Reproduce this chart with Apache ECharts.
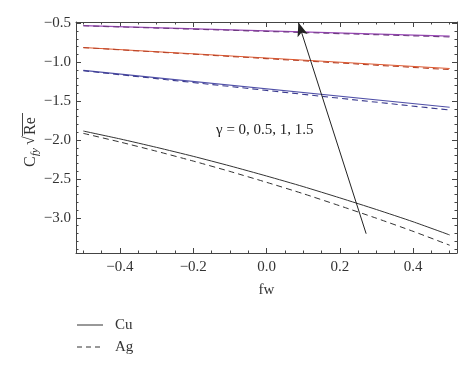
<!DOCTYPE html>
<html><head><meta charset="utf-8">
<script src="https://cdn.jsdelivr.net/npm/echarts@6/dist/echarts.min.js"></script>
<style>html,body{margin:0;padding:0;background:#fff}#c{width:474px;height:372px}</style>
</head><body><div id="c"></div>
<script>
// ---- data ----
const fwValues = [-0.5, -0.4, -0.3, -0.2, -0.1, 0, 0.1, 0.2, 0.3, 0.4, 0.5];
const cuGamma0 = [-1.885, -1.986, -2.095, -2.210, -2.333, -2.463, -2.599, -2.744, -2.894, -3.051, -3.221];
const agGamma0 = [-1.915, -2.026, -2.145, -2.271, -2.404, -2.544, -2.690, -2.846, -3.006, -3.174, -3.353];
const fwEnds = [-0.5, 0.5];
const cuGamma05 = [-1.105, -1.58];
const agGamma05 = [-1.11, -1.615];
const cuGamma1 = [-0.81, -1.08];
const agGamma1 = [-0.812, -1.095];
const cuGamma15 = [-0.53, -0.665];
const agGamma15 = [-0.532, -0.675];
const arrowStart = [0.272, -3.205];
const arrowEnd = [0.087, -0.488];
const xTicks = [-0.4, -0.2, 0, 0.2, 0.4];
const xMinorTicks = [-0.5, -0.45, -0.4, -0.35, -0.3, -0.25, -0.2, -0.15, -0.1, -0.05, 0, 0.05, 0.1, 0.15, 0.2, 0.25, 0.3, 0.35, 0.4, 0.45, 0.5];
const yTicks = [-3.0, -2.5, -2.0, -1.5, -1.0, -0.5];
const yMinorTicks = [-3.4, -3.3, -3.2, -3.1, -3.0, -2.9, -2.8, -2.7, -2.6, -2.5, -2.4, -2.3, -2.2, -2.1, -2.0, -1.9, -1.8, -1.7, -1.6, -1.5, -1.4, -1.3, -1.2, -1.1, -1.0, -0.9, -0.8, -0.7, -0.6, -0.5];
const legendNames = ['Cu', 'Ag'];
const gammaText = 'γ = 0, 0.5, 1, 1.5';

const SERIF = '"Liberation Serif", "DejaVu Serif", serif';
const AX = '#444';
const fmt = v => (v < 0 ? '\u2212' : '') + Math.abs(v).toFixed(1);
const pairs = (xs, ys) => xs.map((x, i) => [x, ys[i]]);

function xAx(pos, major, withLabel) {
  return {
    type: 'value', position: pos, min: -0.52, max: 0.52,
    axisLine: { show: major, onZero: false, lineStyle: { color: AX, width: 1 } },
    axisTick: { show: true, inside: true, length: major ? 5 : 2.5, customValues: major ? xTicks : xMinorTicks, lineStyle: { color: AX } },
    axisLabel: { show: withLabel, customValues: xTicks, formatter: fmt, color: '#333', fontFamily: SERIF, fontSize: 15, margin: 7 },
    splitLine: { show: false },
    name: withLabel ? 'fw' : '', nameLocation: 'middle', nameGap: 30,
    nameTextStyle: { color: '#333', fontFamily: SERIF, fontSize: 15 }
  };
}
function yAx(pos, major, withLabel) {
  return {
    type: 'value', position: pos, min: -3.453, max: -0.483,
    axisLine: { show: major, onZero: false, lineStyle: { color: AX, width: 1 } },
    axisTick: { show: true, inside: true, length: major ? 5 : 2.5, customValues: major ? yTicks : yMinorTicks, lineStyle: { color: AX } },
    axisLabel: { show: withLabel, customValues: yTicks, formatter: fmt, color: '#333', fontFamily: SERIF, fontSize: 15, margin: 5 },
    splitLine: { show: false }
  };
}

function ln(name, xs, ys, color, dashed, w) {
  return {
    name, type: 'line', xAxisIndex: 0, yAxisIndex: 0, data: pairs(xs, ys),
    symbol: 'none', showSymbol: false, smooth: 0.2, silent: true,
    lineStyle: { color, width: w || 1, type: dashed ? [6, 4] : 'solid' },
    itemStyle: { color }
  };
}

const chart = echarts.init(document.getElementById('c'), null, { renderer: 'canvas' });
chart.setOption({
  animation: false,
  backgroundColor: '#fff',
  grid: { left: 76, right: 17, top: 22, bottom: 119, containLabel: false },
  xAxis: [xAx('bottom', true, true), xAx('bottom', false, false), xAx('top', true, false), xAx('top', false, false)],
  yAxis: [yAx('left', true, true), yAx('left', false, false), yAx('right', true, false), yAx('right', false, false)],
  series: [
    ln('Cu', fwValues, cuGamma0, '#333', false),
    ln('Ag', fwValues, agGamma0, '#333', true),
    ln('cu05', fwEnds, cuGamma05, '#5050a8', false, 1.1),
    ln('ag05', fwEnds, agGamma05, '#3a3a8e', true, 1.1),
    ln('cu1', fwEnds, cuGamma1, '#e05a30', false, 1.1),
    ln('ag1', fwEnds, agGamma1, '#b8452a', true, 1.1),
    ln('cu15', fwEnds, cuGamma15, '#9a48b8', false, 1.1),
    ln('ag15', fwEnds, agGamma15, '#6e3a80', true, 1.1),
    {
      name: 'arrow', type: 'line', data: [], xAxisIndex: 0, yAxisIndex: 0, silent: true,
      markLine: {
        silent: true, symbol: ['none', 'arrow'], symbolSize: [8, 14],
        label: { show: false },
        lineStyle: { color: '#222', width: 1, type: 'solid' },
        data: [[{ coord: arrowStart }, { coord: arrowEnd }]]
      }
    }
  ],
  graphic: [
    { type: 'text', left: 216, top: 123, style: { text: gammaText, fontFamily: SERIF, fontSize: 15, fill: '#222' } },
    {
      type: 'group', x: 31, y: 167, rotation: Math.PI / 2,
      children: [
        { type: 'text', x: 0, y: 0, style: { text: 'C', fontFamily: SERIF, fontSize: 16, fill: '#333', verticalAlign: 'middle' } },
        { type: 'text', x: 11, y: 4, style: { text: 'fy', fontFamily: SERIF, fontStyle: 'italic', fontSize: 11, fill: '#333', verticalAlign: 'middle' } },
        { type: 'text', x: 22, y: -1, style: { text: '√', fontFamily: SERIF, fontSize: 16, fill: '#333', verticalAlign: 'middle' } },
        { type: 'line', shape: { x1: 31, y1: -8.5, x2: 54, y2: -8.5 }, style: { stroke: '#333', lineWidth: 0.9 } },
        { type: 'text', x: 32, y: 0, style: { text: 'Re', fontFamily: SERIF, fontSize: 16, fill: '#333', verticalAlign: 'middle' } }
      ]
    },
    { type: 'line', shape: { x1: 77, y1: 325, x2: 103, y2: 325 }, style: { stroke: '#333', lineWidth: 1 } },
    { type: 'text', x: 115, y: 325, style: { text: legendNames[0], fontFamily: SERIF, fontSize: 15, fill: '#333', verticalAlign: 'middle' } },
    { type: 'line', shape: { x1: 77, y1: 347, x2: 103, y2: 347 }, style: { stroke: '#333', lineWidth: 1, lineDash: [5, 4] } },
    { type: 'text', x: 115, y: 347, style: { text: legendNames[1], fontFamily: SERIF, fontSize: 15, fill: '#333', verticalAlign: 'middle' } }
  ]
});
</script></body></html>
